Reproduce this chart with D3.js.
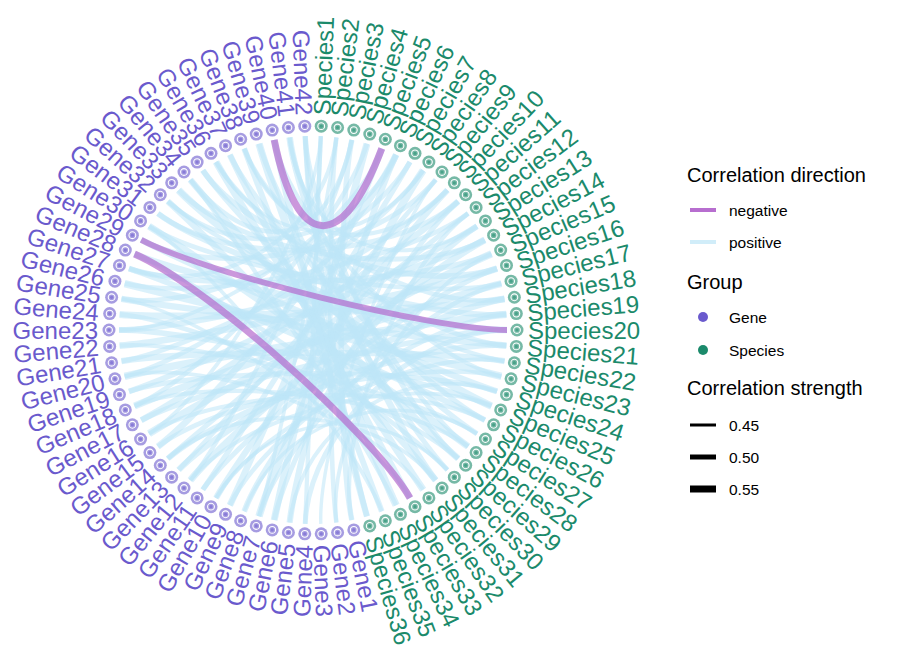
<!DOCTYPE html>
<html><head><meta charset="utf-8">
<script src="https://cdn.jsdelivr.net/npm/d3@7"></script>
<style>body{margin:0;background:#fff}svg{display:block}text{font-family:"Liberation Sans",Arial,sans-serif}</style>
</head><body><svg id="c" width="921" height="672"></svg>
<script>
const species = d3.range(1, 37).map(i => "Species" + i);
const genes = d3.range(1, 43).map(i => "Gene" + i);
// positive edges: [gene, species, strength]
const posEdges = [
[1,3,0.51],[1,12,0.48],[2,2,0.49],[2,15,0.47],[3,9,0.46],[4,20,0.50],[4,1,0.48],
[5,6,0.53],[5,24,0.47],[6,4,0.55],[6,11,0.50],[7,8,0.56],[7,17,0.49],[7,2,0.47],
[8,13,0.52],[8,27,0.46],[9,5,0.54],[9,19,0.49],[10,10,0.53],[10,22,0.48],[10,30,0.46],
[11,7,0.51],[11,16,0.50],[12,14,0.55],[12,25,0.47],[12,3,0.48],[13,18,0.53],[13,9,0.49],
[14,21,0.52],[14,12,0.50],[14,31,0.47],[15,6,0.54],[15,23,0.49],[16,15,0.56],[16,26,0.48],
[16,1,0.47],[17,11,0.53],[17,20,0.51],[18,17,0.55],[18,28,0.48],[18,4,0.49],[19,13,0.52],
[19,24,0.50],[20,19,0.56],[20,8,0.49],[20,32,0.47],[21,22,0.53],[21,10,0.50],[22,16,0.54],
[22,27,0.48],[23,25,0.51],[23,14,0.52],[23,5,0.47],[24,18,0.55],[24,29,0.49],[25,21,0.53],
[25,7,0.50],[25,33,0.46],[26,23,0.56],[26,12,0.49],[27,26,0.52],[27,15,0.51],[27,2,0.48],
[28,20,0.54],[28,30,0.49],[29,24,0.53],[29,9,0.50],[30,28,0.55],[30,17,0.49],[30,35,0.47],
[31,19,0.52],[31,11,0.50],[32,31,0.53],[32,22,0.48],[32,6,0.49],[33,25,0.56],[33,14,0.50],
[34,29,0.54],[34,34,0.48],[34,3,0.49],[35,27,0.51],[35,16,0.52],[36,32,0.55],[36,21,0.49],
[36,8,0.47],[37,33,0.53],[37,26,0.50],[38,35,0.52],[38,18,0.49],[38,10,0.48],[39,34,0.56],
[39,30,0.50],[40,36,0.53],[40,23,0.48],[41,31,0.54],[41,28,0.49],[41,13,0.47],[42,36,0.51],
[42,29,0.50],[42,1,0.48]
];
const negEdges = [[40,5,0.55],[29,20,0.52],[28,33,0.55]];
const directionLabels = ["negative", "positive"];
const groupLabels = ["Gene", "Species"];
const strengthTicks = [0.45, 0.50, 0.55];

const svg = d3.select("#c");
const cx = 313, cy = 330, Rn = 204, Re = 194, Rl = 215;
const nodes = species.map(n => ({name: n, group: "Species"})).concat(genes.map(n => ({name: n, group: "Gene"})));
const N = nodes.length;
const ang = d3.scaleLinear().domain([0, N]).range([0, 2 * Math.PI]);
nodes.forEach((d, i) => { d.a = ang(i + 0.5); });
const idx = {}; nodes.forEach((d, i) => idx[d.name] = i);
const colors = d3.scaleOrdinal().domain(groupLabels).range(["#6a5acd", "#1b8a6b"]);
const dirColor = d3.scaleOrdinal().domain(directionLabels).range(["#b366cc", "#bde5f7"]);
const wScale = d3.scaleLinear().domain([0.45, 0.55]).range([3, 7]);

function pt(a, r) { return [cx + r * Math.sin(a), cy - r * Math.cos(a)]; }
function edgePath(a0, a1) {
  let d = Math.abs(a1 - a0); if (d > Math.PI) d = 2 * Math.PI - d;
  const k = 0.36 + 0.1 * d;
  const p = d3.path();
  const s = pt(a0, Re), e = pt(a1, Re), c1 = pt(a0, Re * k), c2 = pt(a1, Re * k);
  p.moveTo(s[0], s[1]); p.bezierCurveTo(c1[0], c1[1], c2[0], c2[1], e[0], e[1]);
  return p.toString();
}
const edges = posEdges.map(e => ({g: e[0], s: e[1], v: e[2], dir: "positive"}))
  .concat(negEdges.map(e => ({g: e[0], s: e[1], v: e[2], dir: "negative"})));
const eg = svg.append("g");
eg.selectAll("path").data(edges).join("path")
  .attr("d", d => edgePath(nodes[idx["Gene" + d.g]].a, nodes[idx["Species" + d.s]].a))
  .attr("fill", "none")
  .attr("stroke", d => dirColor(d.dir))
  .attr("stroke-opacity", d => d.dir === "negative" ? 0.68 : 0.55)
  .attr("stroke-width", d => wScale(d.v));

const ng = svg.append("g").selectAll("g").data(nodes).join("g")
  .attr("transform", d => { const p = pt(d.a, Rn); return `translate(${p[0]},${p[1]})`; });
ng.append("circle").attr("r", 6.5).attr("fill", d => colors(d.group)).attr("fill-opacity", 0.6);
ng.append("circle").attr("r", 3.4).attr("fill", "none").attr("stroke", "#fff").attr("stroke-width", 1.1);
ng.append("circle").attr("r", 1.6).attr("fill", d => colors(d.group)).attr("fill-opacity", 0.5);

svg.append("g").selectAll("text").data(nodes).join("text")
  .attr("transform", d => {
    const p = pt(d.a, Rl); const deg = d.a * 180 / Math.PI;
    const rot = deg < 180 ? deg - 90 : deg + 90;
    return `translate(${p[0]},${p[1]}) rotate(${rot})`;
  })
  .attr("text-anchor", d => d.a < Math.PI ? "start" : "end")
  .attr("dominant-baseline", "central")
  .attr("font-size", 24)
  .attr("fill", d => colors(d.group))
  .text(d => d.name);

// legend
const lg = svg.append("g").attr("transform", "translate(687,0)");
lg.append("text").attr("x", 0).attr("y", 175).attr("dominant-baseline", "central").attr("font-size", 20).text("Correlation direction");
directionLabels.forEach((t, i) => {
  const y = 210 + i * 32;
  lg.append("line").attr("x1", 3).attr("x2", 29).attr("y1", y).attr("y2", y)
    .attr("stroke", dirColor(t)).attr("stroke-width", 4).attr("stroke-opacity", t === "negative" ? 0.95 : 0.7);
  lg.append("text").attr("x", 42).attr("y", y).attr("dominant-baseline", "central").attr("font-size", 15.5).text(t);
});
lg.append("text").attr("x", 0).attr("y", 282).attr("dominant-baseline", "central").attr("font-size", 20).text("Group");
groupLabels.forEach((t, i) => {
  const y = 317 + i * 33;
  lg.append("circle").attr("cx", 16).attr("cy", y).attr("r", 5).attr("fill", colors(t));
  lg.append("text").attr("x", 42).attr("y", y).attr("dominant-baseline", "central").attr("font-size", 15.5).text(t);
});
lg.append("text").attr("x", 0).attr("y", 388).attr("dominant-baseline", "central").attr("font-size", 20).text("Correlation strength");
strengthTicks.forEach((t, i) => {
  const y = 425 + i * 32;
  lg.append("line").attr("x1", 3).attr("x2", 29).attr("y1", y).attr("y2", y)
    .attr("stroke", "#000").attr("stroke-width", wScale(t));
  lg.append("text").attr("x", 42).attr("y", y).attr("dominant-baseline", "central").attr("font-size", 15.5).text(t.toFixed(2));
});
</script></body></html>
